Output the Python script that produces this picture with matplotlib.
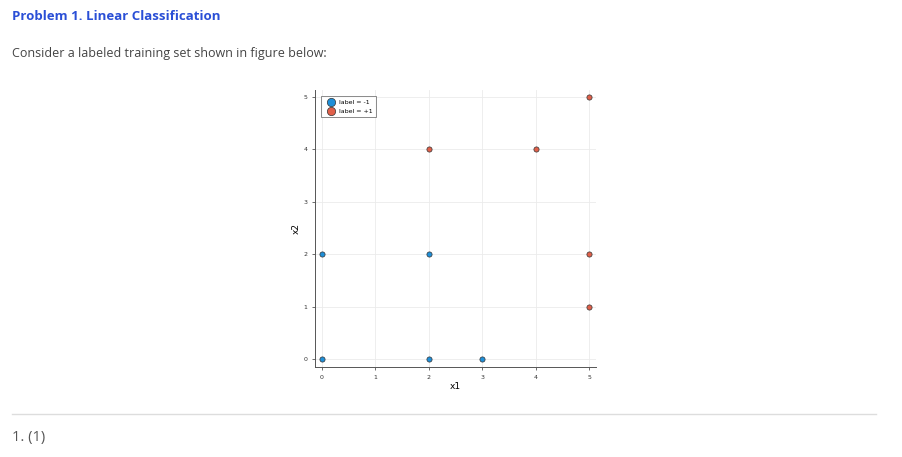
import matplotlib
matplotlib.use("Agg")
import matplotlib.pyplot as plt
from matplotlib.lines import Line2D

neg_x1 = [0, 0, 2, 2, 3]
neg_x2 = [0, 2, 2, 0, 0]
pos_x1 = [2, 4, 5, 5, 5]
pos_x2 = [4, 4, 5, 2, 1]
ticks = [0, 1, 2, 3, 4, 5]

BLUE = "#1f8fd8"
RED = "#e0604a"

fig = plt.figure(figsize=(9.02, 4.57), dpi=100)

fig.text(12 / 902, 1 - 17 / 457, "Problem 1. Linear Classification", color="#2a4fd6",
         fontsize=9.5, fontweight="bold", family="Open Sans", va="center")
fig.text(12 / 902, 1 - 53 / 457, "Consider a labeled training set shown in figure below:",
         color="#444444", fontsize=9, family="Open Sans", va="center")
fig.add_artist(Line2D([12 / 902, 876 / 902], [1 - 414 / 457] * 2, color="#dddddd", lw=1))
fig.text(12 / 902, 1 - 438 / 457, "1. (1)", color="#555555", fontsize=10.5,
         family="Open Sans", va="center")

ax = fig.add_axes([315 / 902, 1 - 367 / 457, 281 / 902, 277 / 457])
ax.scatter(neg_x1, neg_x2, s=14, color=BLUE, edgecolors="#333333", linewidths=0.5,
           zorder=3, label="label = -1")
ax.scatter(pos_x1, pos_x2, s=14, color=RED, edgecolors="#333333", linewidths=0.5,
           zorder=3, label="label = +1")
ax.set_xlim(-0.13, 5.13)
ax.set_ylim(-0.15, 5.13)
ax.set_xticks(ticks)
ax.set_yticks(ticks)
ax.tick_params(labelsize=4.5, length=2, width=0.5, colors="#333333")
ax.grid(color="#ebebeb", lw=0.6)
ax.set_axisbelow(True)
for s in ["top", "right"]:
    ax.spines[s].set_visible(False)
for s in ["left", "bottom"]:
    ax.spines[s].set_linewidth(0.7)
    ax.spines[s].set_color("#555555")
ax.set_xlabel("x1", fontsize=6.5, labelpad=2)
ax.set_ylabel("x2", fontsize=6.5, labelpad=2)
leg = ax.legend(loc="upper left", fontsize=4.5, markerscale=1.6, fancybox=False,
                edgecolor="#555555", borderpad=0.6, handletextpad=0.3,
                bbox_to_anchor=(0.01, 0.99))
leg.get_frame().set_linewidth(0.6)

fig.savefig("out.png", dpi=100)
